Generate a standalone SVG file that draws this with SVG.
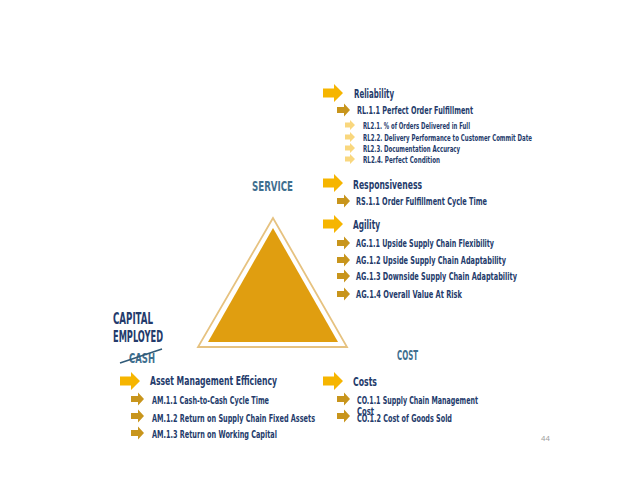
<svg xmlns="http://www.w3.org/2000/svg" xmlns:xlink="http://www.w3.org/1999/xlink" width="638" height="493" viewBox="0 0 638 493">
<defs>
<path id="bigArrow" d="M0,-4.5 H11 V-9 L20,0 L11,9 V4.5 H0 Z" fill="#F6B500"/>
<path id="midArrow" d="M0,-3 H7 V-6.5 L13,0 L7,6.5 V3 H0 Z" fill="#C8951C"/>
<path id="lightArrow" d="M0,-2.5 H5 V-5 L10,0 L5,5 V2.5 H0 Z" fill="#F9D77E"/>
</defs>
<style>
text{font-family:"DejaVu Sans Condensed","DejaVu Sans","Liberation Sans",sans-serif;font-stretch:condensed;font-weight:bold;fill:#243B6B}
.h{font-size:12.5px}
.i{font-size:10px}
.s{font-size:8px}
.big{font-size:14.5px;fill:#3F6F8F}
.cap{font-size:15px;fill:#243B6B}
.num{font-size:8px;font-weight:normal;fill:#A0A0A0;font-family:"Liberation Sans",sans-serif}
</style>
<rect width="638" height="493" fill="#FFFFFF"/>

<g id="triangle">
<polygon points="273,218 198,347 347,347" fill="none" stroke="#E6C280" stroke-width="1.8"/>
<polygon points="273,228 208,342 338,342" fill="#E09E10"/>
</g>

<g id="service-label"><text class="big" x="252" y="191" textLength="41" lengthAdjust="spacingAndGlyphs">SERVICE</text></g>
<g id="cost-label"><text class="big" x="397" y="360" textLength="21" lengthAdjust="spacingAndGlyphs">COST</text></g>
<g id="capital-label">
<text class="cap" x="113" y="324" textLength="40" lengthAdjust="spacingAndGlyphs">CAPITAL</text>
<text class="cap" x="113" y="342" textLength="50" lengthAdjust="spacingAndGlyphs">EMPLOYED</text>
<text class="big" x="129" y="363" font-size="13" textLength="26" lengthAdjust="spacingAndGlyphs">CASH</text>
<line x1="120" y1="363" x2="162" y2="349" stroke="#2F5A78" stroke-width="1.5"/>
</g>

<g id="reliability">
<use xlink:href="#bigArrow" x="323" y="93"/>
<text class="h" x="354" y="98" textLength="40" lengthAdjust="spacingAndGlyphs">Reliability</text>
<use xlink:href="#midArrow" x="337" y="110"/>
<text class="i" x="357" y="114" textLength="116" lengthAdjust="spacingAndGlyphs">RL.1.1 Perfect Order Fulfillment</text>
<use xlink:href="#lightArrow" x="345" y="125"/>
<text class="s" x="363" y="129" textLength="107" lengthAdjust="spacingAndGlyphs">RL2.1. % of Orders Delivered in Full</text>
<use xlink:href="#lightArrow" x="345" y="137"/>
<text class="s" x="363" y="141" textLength="169" lengthAdjust="spacingAndGlyphs">RL2.2. Delivery Performance to Customer Commit Date</text>
<use xlink:href="#lightArrow" x="345" y="148"/>
<text class="s" x="363" y="152" textLength="97" lengthAdjust="spacingAndGlyphs">RL2.3. Documentation Accuracy</text>
<use xlink:href="#lightArrow" x="345" y="159"/>
<text class="s" x="363" y="163" textLength="77" lengthAdjust="spacingAndGlyphs">RL2.4. Perfect Condition</text>
</g>

<g id="responsiveness">
<use xlink:href="#bigArrow" x="323" y="183"/>
<text class="h" x="353" y="189" textLength="69" lengthAdjust="spacingAndGlyphs">Responsiveness</text>
<use xlink:href="#midArrow" x="337" y="201"/>
<text class="i" x="356" y="205" textLength="131" lengthAdjust="spacingAndGlyphs">RS.1.1 Order Fulfillment Cycle Time</text>
</g>

<g id="agility">
<use xlink:href="#bigArrow" x="323" y="224"/>
<text class="h" x="353" y="229" textLength="27" lengthAdjust="spacingAndGlyphs">Agility</text>
<use xlink:href="#midArrow" x="337" y="243"/>
<text class="i" x="356" y="247" textLength="138" lengthAdjust="spacingAndGlyphs">AG.1.1 Upside Supply Chain Flexibility</text>
<use xlink:href="#midArrow" x="337" y="260"/>
<text class="i" x="356" y="264" textLength="150" lengthAdjust="spacingAndGlyphs">AG.1.2 Upside Supply Chain Adaptability</text>
<use xlink:href="#midArrow" x="337" y="276"/>
<text class="i" x="356" y="280" textLength="161" lengthAdjust="spacingAndGlyphs">AG.1.3 Downside Supply Chain Adaptability</text>
<use xlink:href="#midArrow" x="337" y="294"/>
<text class="i" x="356" y="298" textLength="106" lengthAdjust="spacingAndGlyphs">AG.1.4 Overall Value At Risk</text>
</g>

<g id="asset-management">
<use xlink:href="#bigArrow" x="120" y="381"/>
<text class="h" x="150" y="385" textLength="127" lengthAdjust="spacingAndGlyphs">Asset Management Efficiency</text>
<use xlink:href="#midArrow" x="131" y="399"/>
<text class="i" x="152" y="404" textLength="117" lengthAdjust="spacingAndGlyphs">AM.1.1 Cash-to-Cash Cycle Time</text>
<use xlink:href="#midArrow" x="131" y="416"/>
<text class="i" x="152" y="422" textLength="163" lengthAdjust="spacingAndGlyphs">AM.1.2 Return on Supply Chain Fixed Assets</text>
<use xlink:href="#midArrow" x="131" y="433"/>
<text class="i" x="152" y="438" textLength="125" lengthAdjust="spacingAndGlyphs">AM.1.3 Return on Working Capital</text>
</g>

<g id="costs">
<use xlink:href="#bigArrow" x="323" y="381"/>
<text class="h" x="353" y="386" textLength="24" lengthAdjust="spacingAndGlyphs">Costs</text>
<use xlink:href="#midArrow" x="337" y="399"/>
<text class="i" x="357" y="404" textLength="121" lengthAdjust="spacingAndGlyphs">CO.1.1 Supply Chain Management</text>
<text class="i" x="357" y="415" textLength="17" lengthAdjust="spacingAndGlyphs">Cost</text>
<use xlink:href="#midArrow" x="337" y="416"/>
<text class="i" x="357" y="422" textLength="95" lengthAdjust="spacingAndGlyphs">CO.1.2 Cost of Goods Sold</text>
</g>

<g id="page-number"><text class="num" x="541" y="441">44</text></g>
</svg>
